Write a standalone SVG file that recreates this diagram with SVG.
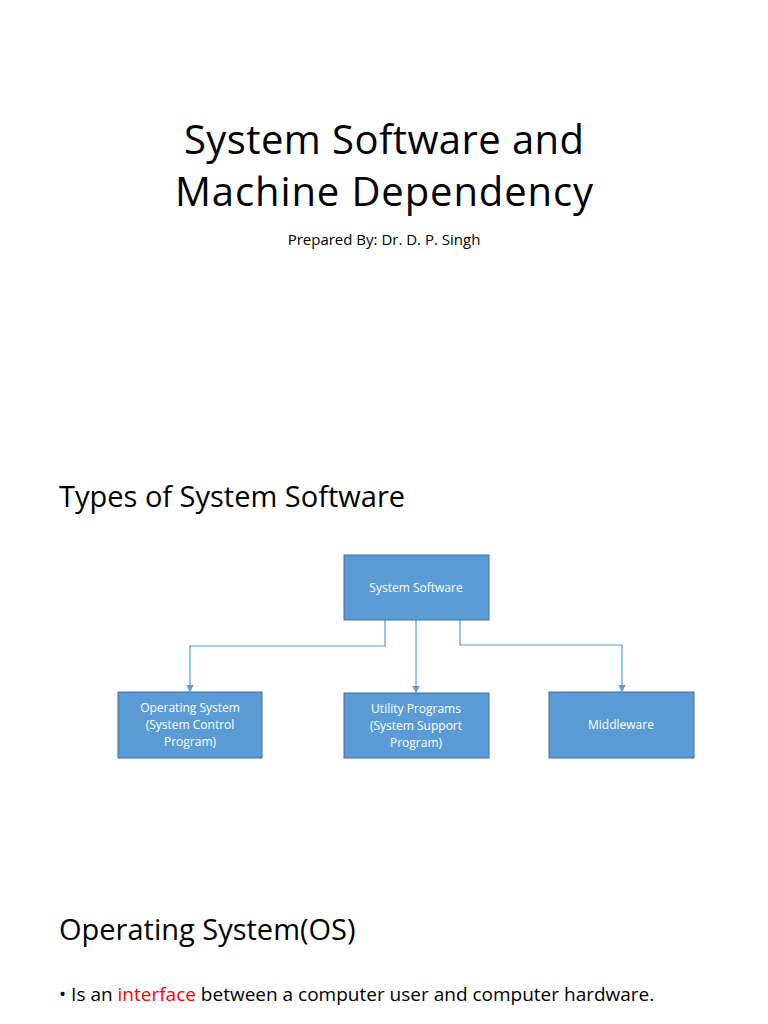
<svg xmlns="http://www.w3.org/2000/svg" width="768" height="1024" viewBox="0 0 768 1024">
<style>
text{font-family:"Open Sans","Liberation Sans",sans-serif;fill:#000}
.box{fill:#5b9bd5;stroke:#41719c;stroke-width:1}
.bt{fill:#fff;font-size:12px;text-anchor:middle}
.c{fill:none;stroke:#5b9bd5;stroke-width:1.2}
</style>
<defs><marker id="a" markerWidth="6" markerHeight="6" refX="5" refY="3" orient="auto"><path d="M0,0 L6,3 L0,6z" fill="#5b9bd5"/></marker></defs>
<rect width="768" height="1024" fill="#fff"/>
<text x="384" y="154" font-size="40" text-anchor="middle" textLength="400">System Software and</text>
<text x="384" y="206" font-size="40" text-anchor="middle" textLength="418">Machine Dependency</text>
<text x="384" y="245" font-size="15" text-anchor="middle">Prepared By: Dr. D. P. Singh</text>
<text x="59" y="507" font-size="29">Types of System Software</text>
<g id="connectors">
<path class="c" d="M385,620 V646 H190 V691" marker-end="url(#a)"/>
<path class="c" d="M416,620 V692" marker-end="url(#a)"/>
<path class="c" d="M460,620 V645 H622 V691" marker-end="url(#a)"/>
</g>
<g id="n0"><rect class="box" x="344" y="555" width="145" height="65"/><text class="bt" x="416" y="592">System Software</text></g>
<g id="n1"><rect class="box" x="118" y="692" width="144" height="66"/><text class="bt" x="190" y="712">Operating System</text><text class="bt" x="190" y="729">(System Control</text><text class="bt" x="190" y="746">Program)</text></g>
<g id="n2"><rect class="box" x="344" y="693" width="145" height="65"/><text class="bt" x="416" y="713">Utility Programs</text><text class="bt" x="416" y="730">(System Support</text><text class="bt" x="416" y="747">Program)</text></g>
<g id="n3"><rect class="box" x="549" y="692" width="145" height="66"/><text class="bt" x="621" y="729">Middleware</text></g>
<text x="59" y="940" font-size="29">Operating System(OS)</text>
<text x="59" y="1001" font-size="19">• Is an <tspan fill="#ff0000">interface</tspan> between a computer user and computer hardware.</text>
</svg>
